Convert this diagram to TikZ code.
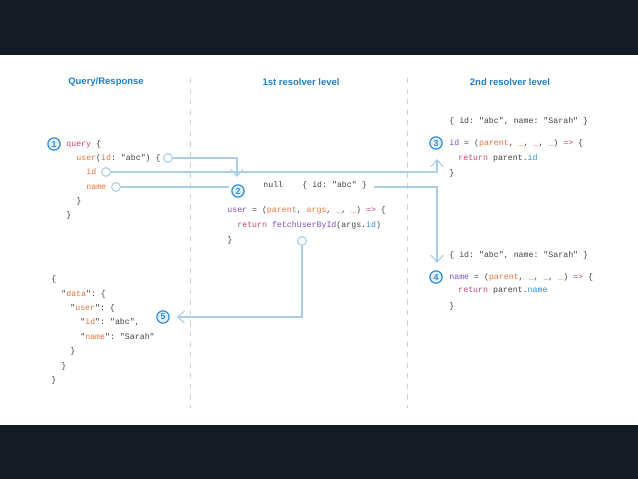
\documentclass[tikz,border=0pt]{standalone}
\usepackage{fontspec}
\setmainfont{Liberation Sans}
\setmonofont{Liberation Mono}
\usetikzlibrary{arrows.meta}
\definecolor{band}{HTML}{151B25}
\definecolor{kw}{HTML}{D0436A}
\definecolor{org}{HTML}{E8743B}
\definecolor{pur}{HTML}{7B4FC9}
\definecolor{lnk}{HTML}{2F8FDB}
\definecolor{txt}{HTML}{444444}
\definecolor{wire}{HTML}{A9CDEA}
\definecolor{head}{HTML}{1F7FCF}
\newcommand{\K}[1]{\textcolor{kw}{#1}}
\newcommand{\Or}[1]{\textcolor{org}{#1}}
\newcommand{\Pu}[1]{\textcolor{pur}{#1}}
\newcommand{\Bl}[1]{\textcolor{lnk}{#1}}
\begin{document}
\begin{tikzpicture}[x=0.02cm,y=-0.02cm,
  code/.style={anchor=west,inner sep=0,text=txt,font=\ttfamily\fontsize{4.7}{6}\selectfont},
  hd/.style={text=head,font=\bfseries\fontsize{5.4}{6}\selectfont},
  num/.style={circle,draw=lnk,fill=lnk!15,line width=0.7pt,inner sep=0,minimum size=7pt,text=lnk,font=\bfseries\fontsize{5}{5}\selectfont},
  port/.style={circle,draw=wire,fill=white,line width=0.6pt,inner sep=0,minimum size=5pt},
  wr/.style={draw=wire,line width=0.6pt},
  tip/.style={-{Straight Barb[length=4pt,width=7pt]}}]
\useasboundingbox (0,0) rectangle (638,479);
\fill[band] (0,0) rectangle (638,55);
\fill[band] (0,425) rectangle (638,479);
\draw[black!18,dashed,line width=0.5pt] (190,78) -- (190,408);
\draw[black!18,dashed,line width=0.5pt] (407,78) -- (407,408);
% headers
\node[hd] (h1) at (106,82) {Query/Response};
\node[hd] (h2) at (301,82) {1st resolver level};
\node[hd] (h3) at (510,82) {2nd resolver level};
% query
\node[num] (n1) at (54,144) {1};
\node[code] (q1) at (66,144) {\K{query} \{};
\node[code] (q2) at (76,158) {\Or{user}(\Or{id}: "abc") \{};
\node[code] (q3) at (86,172) {\Or{id}};
\node[code] (q4) at (86,187) {\Or{name}};
\node[code] (q5) at (76,201) {\}};
\node[code] (q6) at (66,215) {\}};
\node[port] (p1) at (168,158) {};
\node[port] (p2) at (106,172) {};
\node[port] (p3) at (116,187) {};
% 1st level
\node[num] (n2) at (238,191) {2};
\node[code] (m0) at (263,185) {null};
\node[code] (m1) at (302,185) {\{ id: "abc" \}};
\node[code] (m2) at (227,210) {\Pu{user} = (\Or{parent}, \Or{args}, \Or{\_}, \Or{\_}) \K{=>} \{};
\node[code] (m3) at (237,225) {\K{return} \Pu{fetchUserById}(args.\Bl{id})};
\node[code] (m4) at (227,240) {\}};
\node[port] (p4) at (302,241) {};
% 2nd level
\node[code] (r1) at (449,121) {\{ id: "abc", name: "Sarah" \}};
\node[num] (n3) at (436,143) {3};
\node[code] (r2) at (449,143) {\Pu{id} = (\Or{parent}, \Or{\_}, \Or{\_}, \Or{\_}) \K{=>} \{};
\node[code] (r3) at (458,158) {\K{return} parent.\Bl{id}};
\node[code] (r4) at (449,173) {\}};
\node[code] (s1) at (449,255) {\{ id: "abc", name: "Sarah" \}};
\node[num] (n4) at (436,277) {4};
\node[code] (s2) at (449,277) {\Pu{name} = (\Or{parent}, \Or{\_}, \Or{\_}, \Or{\_}) \K{=>} \{};
\node[code] (s3) at (458,291) {\K{return} parent.\Bl{name}};
\node[code] (s4) at (449,306) {\}};
% response
\node[code] (j1) at (51,279) {\{};
\node[code] (j2) at (61,294) {"\Or{data}": \{};
\node[code] (j3) at (70,308) {"\Or{user}": \{};
\node[code] (j4) at (80,322) {"\Or{id}": "abc",};
\node[code] (j5) at (80,337) {"\Or{name}": "Sarah"};
\node[code] (j6) at (70,351) {\}};
\node[code] (j7) at (61,366) {\}};
\node[code] (j8) at (51,380) {\}};
\node[num] (n5) at (163,317) {5};
% connectors
\coordinate (a1) at (237,177);
\coordinate (a3) at (437,159);
\coordinate (a4) at (437,263);
\coordinate (e3) at (229,187);
\coordinate (o1) at (374,187);
\draw[wr,tip] (p1) -- (237,158) -- (a1);
\draw[wr,tip] (p2) -- (437,172) -- (a3);
\draw[wr] (p3) -- (e3);
\draw[wr,tip] (o1) -- (437,187) -- (a4);
\draw[wr,tip] (p4) -- (302,317) -- ([xshift=4pt]n5.east);
\end{tikzpicture}
\end{document}
